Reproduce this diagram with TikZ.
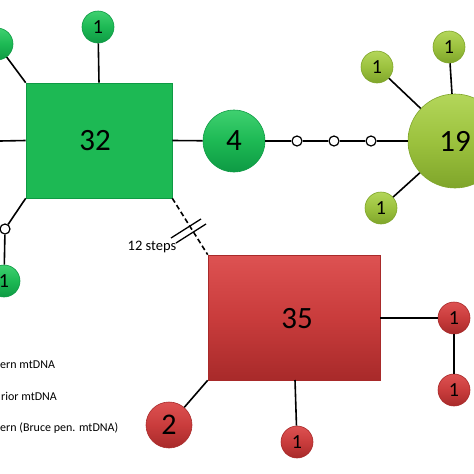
\documentclass[tikz,border=0pt]{standalone}
\usepackage{fontspec}
\setmainfont{Carlito}
\definecolor{gA}{HTML}{1DB954}
\definecolor{gAl}{HTML}{3FD070}
\definecolor{gAd}{HTML}{0E9A44}
\definecolor{lgA}{HTML}{9CC23E}
\definecolor{lgAl}{HTML}{B3D65A}
\definecolor{lgAd}{HTML}{7FA52A}
\definecolor{rA}{HTML}{C93C3C}
\definecolor{rAl}{HTML}{DD5252}
\definecolor{rAd}{HTML}{A82A2A}
\tikzset{
  gcirc/.style={circle,draw=gAd,line width=0.6pt,top color=gAl,bottom color=gAd,middle color=gA,inner sep=0pt},
  lgcirc/.style={circle,draw=lgAd,line width=0.6pt,top color=lgAl,bottom color=lgAd,middle color=lgA,inner sep=0pt},
  rcirc/.style={circle,draw=rAd,line width=0.6pt,top color=rAl,bottom color=rAd,middle color=rA,inner sep=0pt},
  small/.style={minimum size=32pt,font=\fontsize{20}{20}\selectfont},
  big/.style={font=\fontsize{31}{31}\selectfont},
  hub/.style={circle,draw=black,fill=white,line width=1.2pt,minimum size=10pt,inner sep=0pt},
  link/.style={line width=1.6pt,black},
  leg/.style={anchor=west,inner sep=0pt,font=\fontsize{12}{12}\selectfont},
}
\begin{document}
\begin{tikzpicture}[x=1pt,y=-1pt]
\useasboundingbox (0,0) rectangle (474,474);
\begin{scope}
\clip (0,0) rectangle (474,474);
% green square
\node[draw=gAd,line width=0.6pt,fill=gA,minimum width=146pt,minimum height=115pt,inner sep=0pt] (g32) at (99,140.5) {};
\node[big] (g32t) at (95,141) {32};
% green circles around
\node[gcirc,small] (gt) at (98,27) {1};
\node[gcirc,small] (gl) at (-3,44) {};
\node[gcirc,small] (gb) at (4,281) {1};
\node[hub] (h0) at (5,229) {};
\coordinate (le) at (0,141);
\draw[link] (g32.north) -- (gt);
\draw[link] (g32.north west) -- (gl);
\draw[link] (g32.west) -- (le);
\draw[link] (g32.south west) -- (h0);
\draw[link] (h0) -- (gb);
% circle 4
\node[gcirc,minimum size=62pt,big] (g4) at (234,141) {4};
\draw[link] (g32.east) -- (g4);
\node[hub] (h1) at (297,141) {};
\node[hub] (h2) at (334,141) {};
\node[hub] (h3) at (371,141) {};
\node[lgcirc,minimum size=94pt,big] (c19) at (455,141) {19};
\draw[link] (g4) -- (h1) -- (h2) -- (h3) -- (c19);
\node[lgcirc,small] (l1) at (377,67) {1};
\node[lgcirc,small] (l2) at (449,47) {1};
\node[lgcirc,small] (l3) at (381,208) {1};
\draw[link] (l1) -- (c19);
\draw[link] (l2) -- (c19);
\draw[link] (l3) -- (c19);
% red rectangle
\node[draw=rAd,line width=0.6pt,top color=rAl,bottom color=rAd,middle color=rA,minimum width=172pt,minimum height=125pt,inner sep=0pt] (r35) at (294,317.5) {};
\node[big] (r35t) at (297,319) {35};
\draw[line width=1.6pt,dashed,dash pattern=on 5pt off 3pt] (g32.south east) -- (r35.north west);
\draw[line width=1.3pt] (171,238) -- (201,219);
\draw[line width=1.3pt] (176,243) -- (206,224);
\node[font=\fontsize{14.5}{14.5}\selectfont] (steps) at (152,247) {12 steps};
\node[rcirc,small] (r1) at (454,318) {1};
\node[rcirc,small] (r2) at (454,390) {1};
\node[rcirc,small] (r3) at (297,442) {1};
\node[rcirc,minimum size=46pt,font=\fontsize{30}{30}\selectfont] (r4) at (169,425) {2};
\draw[link] (r35.east |- r1) -- (r1);
\draw[link] (r1) -- (r2);
\draw[link] (295,380) -- (r3);
\draw[link] (r35.south west) -- (r4);
% legend text
\node[leg] (t1) at (0,365) {ern mtDNA};
\node[leg] (t2) at (1,396) {rior mtDNA};
\node[leg] (t3) at (0,428) {ern (Bruce pen. mtDNA)};
\end{scope}
\end{tikzpicture}
\end{document}
